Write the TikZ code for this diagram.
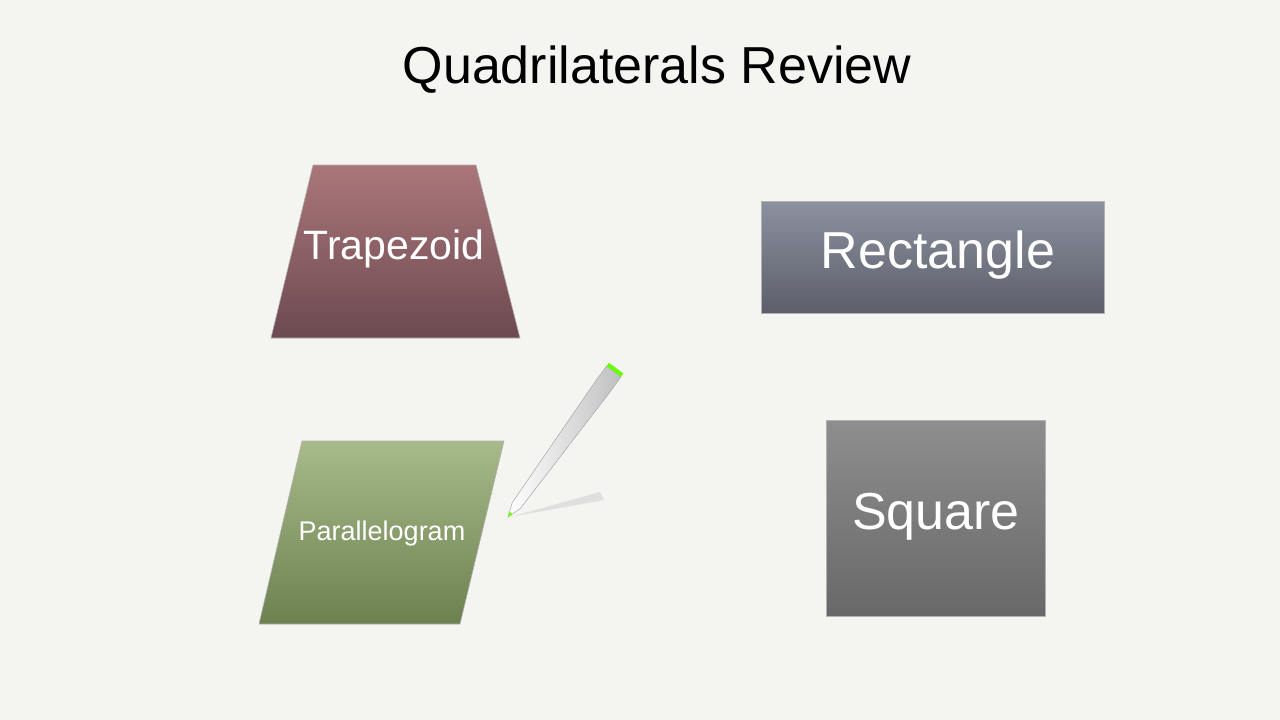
\documentclass[tikz,border=0pt]{standalone}
\usepackage{fontspec}
\setmainfont{Liberation Sans}
\begin{document}
\begin{tikzpicture}[x=1pt,y=-1pt,
  lbl/.style={text=white,font=\fontsize{41}{45}\selectfont},
  sh/.style={draw=black!30,line width=0.6pt}]
\fill[fill={rgb,255:red,244;green,244;blue,240}] (0,0) rectangle (1280,720);
\useasboundingbox (0,0) rectangle (1280,720);
\node (title) at (657,70) {\fontsize{52}{56}\selectfont Quadrilaterals Review};
% trapezoid
\shade[sh,top color={rgb,255:red,170;green,118;blue,122},bottom color={rgb,255:red,108;green,74;blue,80}]
  (313,165) -- (476,165) -- (520,338) -- (271,338) -- cycle;
\node[lbl] (trap) at (394,249) {Trapezoid};
% rectangle
\shade[sh,top color={rgb,255:red,140;green,145;blue,160},bottom color={rgb,255:red,92;green,95;blue,106}]
  (761,201) rectangle (1104,313);
\node[lbl,font=\fontsize{52}{56}\selectfont] (rect) at (938,255) {Rectangle};
% parallelogram
\shade[sh,top color={rgb,255:red,168;green,186;blue,138},bottom color={rgb,255:red,108;green,128;blue,80}]
  (302,441) -- (504,441) -- (460,624) -- (259,624) -- cycle;
\node[lbl,font=\fontsize{27}{30}\selectfont] (para) at (382,534) {Parallelogram};
% square
\shade[sh,top color={rgb,255:red,142;green,142;blue,142},bottom color={rgb,255:red,104;green,104;blue,104}]
  (826,420) rectangle (1045,616);
\node[lbl,font=\fontsize{52}{56}\selectfont] (sq) at (936,517) {Square};
% pen
\fill[black!20,opacity=0.5] (510,517) -- (600,492) -- (604,500) -- cycle;
\begin{scope}[shift={(508,517)},rotate=54]
  \shade[left color=white,right color=black!25,draw=black!35,line width=0.5pt]
    (0,0) -- (14,-5) -- (160,-9) -- (180,-9) -- (180,9) -- (160,9) -- (14,5) -- cycle;
  \fill[green!60!yellow] (180,-9) rectangle (184,9);
  \fill[green!60!yellow] (0,0) -- (5,-2) -- (5,2) -- cycle;
\end{scope}
\end{tikzpicture}
\end{document}
